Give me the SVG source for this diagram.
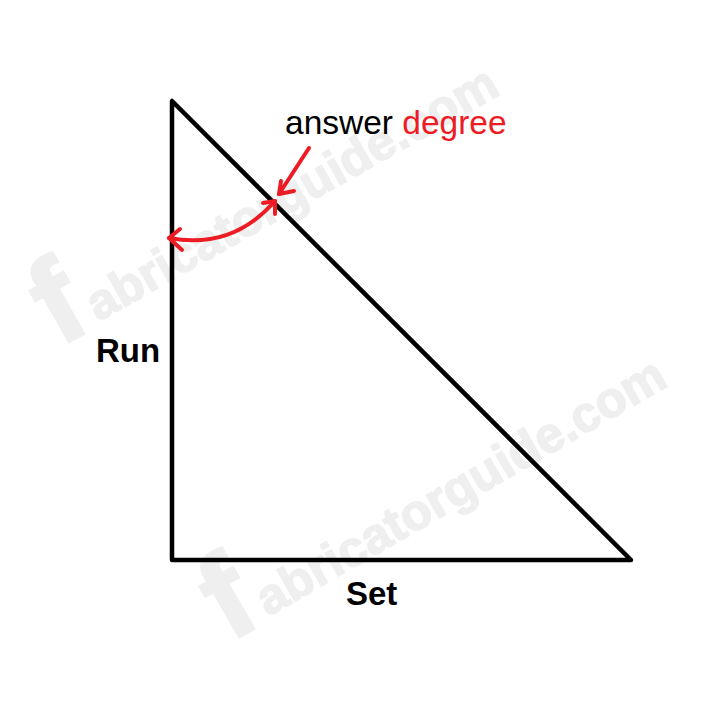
<svg xmlns="http://www.w3.org/2000/svg" width="721" height="719" viewBox="0 0 721 719">
<style>
.wm{fill:#efefef;font-family:"Liberation Sans",Arial,sans-serif;font-weight:bold}
.lbl{font-family:"Liberation Sans",Arial,sans-serif;fill:#000}
.red{fill:none;stroke:#ED1C24;stroke-width:4;stroke-linecap:round;stroke-linejoin:round}
</style>
<rect width="721" height="719" fill="#fff"/>
<g id="watermark1" transform="translate(98,322) rotate(-29.5)">
<text class="wm" x="-46" y="3" font-size="120" stroke="#efefef" stroke-width="3">f</text>
<text class="wm" x="0" y="0" font-size="50" stroke="#efefef" stroke-width="1.5">abricatorguide.com</text>
</g>
<g id="watermark2" transform="translate(268,617) rotate(-30)">
<text class="wm" x="-46" y="3" font-size="120" stroke="#efefef" stroke-width="3">f</text>
<text class="wm" x="0" y="0" font-size="50" stroke="#efefef" stroke-width="1.5">abricatorguide.com</text>
</g>
<g id="triangle">
<path d="M172,101 L172,560 L631,560 Z" fill="none" stroke="#000" stroke-width="4.5" stroke-linejoin="round"/>
</g>
<g id="connectors">
<path class="red" d="M169,238 Q232,250 275,201"/>
<path class="red" d="M180,229 L169,238 L182,250"/>
<path class="red" d="M263,203 L275,201 L275,214"/>
<path class="red" d="M309,148 L279,194"/>
<path class="red" d="M281,181 L279,194 L294,191"/>
</g>
<g id="label-answer">
<text class="lbl" x="285" y="134" font-size="33.5">answer <tspan fill="#ED1C24">degree</tspan></text>
</g>
<g id="label-run">
<text class="lbl" x="96" y="362" font-size="33" font-weight="bold">Run</text>
</g>
<g id="label-set">
<text class="lbl" x="346" y="605" font-size="33" font-weight="bold">Set</text>
</g>
</svg>
